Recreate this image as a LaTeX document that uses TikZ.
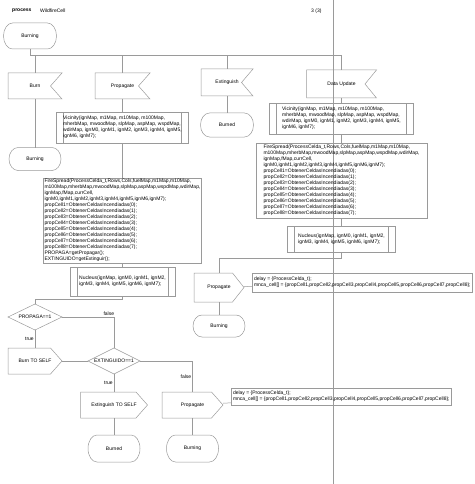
\documentclass[tikz,border=0pt]{standalone}
\usepackage{fontspec}
\setmainfont{Liberation Sans}
\usetikzlibrary{shapes.geometric}
\definecolor{linegray}{HTML}{9A9A9A}

\makeatletter
\def\sdlanchors{%
  \inheritsavedanchors[from=rectangle]%
  \inheritanchorborder[from=rectangle]%
  \inheritanchor[from=rectangle]{center}%
  \inheritanchor[from=rectangle]{north}%
  \inheritanchor[from=rectangle]{south}%
  \inheritanchor[from=rectangle]{east}%
  \inheritanchor[from=rectangle]{west}%
  \inheritanchor[from=rectangle]{north east}%
  \inheritanchor[from=rectangle]{north west}%
  \inheritanchor[from=rectangle]{south east}%
  \inheritanchor[from=rectangle]{south west}%
  \inheritanchor[from=rectangle]{mid}%
  \inheritanchor[from=rectangle]{base}}
\def\sdlbox{%
  \southwest\edef\sdlL{\the\pgf@x}\edef\sdlB{\the\pgf@y}%
  \northeast\edef\sdlR{\the\pgf@x}\edef\sdlT{\the\pgf@y}%
  \pgf@xc=\sdlL\advance\pgf@xc by9pt\edef\sdlS{\the\pgf@xc}%
  \pgf@xc=\sdlR\advance\pgf@xc by-9pt\edef\sdlE{\the\pgf@xc}%
  \pgf@xc=\sdlL\advance\pgf@xc by7pt\edef\sdlP{\the\pgf@xc}%
  \pgf@xc=\sdlR\advance\pgf@xc by-7pt\edef\sdlQ{\the\pgf@xc}%
  \pgf@xc=\sdlR\advance\pgf@xc by-11.5pt\edef\sdlK{\the\pgf@xc}%
  \pgf@yc=\sdlT\advance\pgf@yc by-\sdlB\divide\pgf@yc by2\edef\sdlH{\the\pgf@yc}%
  \advance\pgf@yc by\sdlB\edef\sdlM{\the\pgf@yc}}
\pgfdeclareshape{sdl state}{\sdlanchors
  \backgroundpath{\sdlbox
    \pgfpathmoveto{\pgfqpoint{\sdlS}{\sdlT}}%
    \pgfpathlineto{\pgfqpoint{\sdlE}{\sdlT}}%
    \pgfpatharc{90}{-90}{9pt and \sdlH}%
    \pgfpathlineto{\pgfqpoint{\sdlS}{\sdlB}}%
    \pgfpatharc{270}{90}{9pt and \sdlH}%
    \pgfpathclose}}
\pgfdeclareshape{sdl input}{\sdlanchors
  \backgroundpath{\sdlbox
    \pgfpathmoveto{\pgfqpoint{\sdlL}{\sdlB}}%
    \pgfpathlineto{\pgfqpoint{\sdlL}{\sdlT}}%
    \pgfpathlineto{\pgfqpoint{\sdlR}{\sdlT}}%
    \pgfpathlineto{\pgfqpoint{\sdlK}{\sdlM}}%
    \pgfpathlineto{\pgfqpoint{\sdlR}{\sdlB}}%
    \pgfpathclose}}
\pgfdeclareshape{sdl output}{\sdlanchors
  \backgroundpath{\sdlbox
    \pgfpathmoveto{\pgfqpoint{\sdlL}{\sdlB}}%
    \pgfpathlineto{\pgfqpoint{\sdlL}{\sdlT}}%
    \pgfpathlineto{\pgfqpoint{\sdlK}{\sdlT}}%
    \pgfpathlineto{\pgfqpoint{\sdlR}{\sdlM}}%
    \pgfpathlineto{\pgfqpoint{\sdlK}{\sdlB}}%
    \pgfpathclose}}
\pgfdeclareshape{sdl call}{\sdlanchors
  \backgroundpath{\sdlbox
    \pgfpathmoveto{\pgfqpoint{\sdlL}{\sdlB}}%
    \pgfpathlineto{\pgfqpoint{\sdlL}{\sdlT}}%
    \pgfpathlineto{\pgfqpoint{\sdlR}{\sdlT}}%
    \pgfpathlineto{\pgfqpoint{\sdlR}{\sdlB}}%
    \pgfpathclose
    \pgfpathmoveto{\pgfqpoint{\sdlP}{\sdlB}}%
    \pgfpathlineto{\pgfqpoint{\sdlP}{\sdlT}}%
    \pgfpathmoveto{\pgfqpoint{\sdlQ}{\sdlB}}%
    \pgfpathlineto{\pgfqpoint{\sdlQ}{\sdlT}}}}
\makeatother

\begin{document}
\begin{tikzpicture}[x=1pt,y=-1pt,
    every node/.style={font=\fontsize{5}{6}\selectfont},
    sdl/.style={draw=linegray,line width=.5pt,outer sep=0pt,inner sep=1pt},
    sdlstate/.style={sdl,shape=sdl state},
    sdlin/.style={sdl,shape=sdl input},
    sdlout/.style={sdl,shape=sdl output},
    sdlcall/.style={sdl,shape=sdl call,align=left},
    sdltask/.style={sdl,rectangle,align=left},
    sdldec/.style={sdl,diamond,aspect=2,inner sep=0pt},
    sdlnote/.style={sdl,rectangle,align=left,anchor=west,inner xsep=2pt},
    lbl/.style={inner sep=1pt},
    flow/.style={draw=linegray,line width=.5pt}]
\useasboundingbox (0,0) rectangle (474,484);
\draw[flow] (333,0) -- (333,484);
\node[lbl,anchor=west,font=\bfseries\fontsize{5}{6}\selectfont] (kind) at (11,11) {process};
\node[lbl,anchor=west] (procname) at (39,11) {WildfireCell};
\node[lbl,anchor=west] (page) at (310,11) {3 (3)};

\node[sdlstate,minimum width=53,minimum height=26] (start) at (30,36) {Burning};
\coordinate (bus) at (30,55);
\node[sdlin,minimum width=54,minimum height=26] (inBurn) at (35,86) {Burn};
\node[sdlin,minimum width=55,minimum height=26] (inProp) at (122.5,86) {Propagate};
\node[sdlin,minimum width=52,minimum height=27] (inExt) at (227,82.5) {Extinguish};
\node[sdlin,minimum width=70,minimum height=28] (inUpdate) at (341.5,84) {Data Update};

\node[sdlstate,minimum width=52,minimum height=23] (stBurning1) at (35,159) {Burning};
\node[sdlcall,minimum width=132,minimum height=31] (vic1) at (122.5,127.5)
  {Vicinity(ignMap, m1Map, m10Map, m100Map,\\mherbMap, mwoodMap, slpMap, aspMap, wspdMap,\\wdirMap, ignM0, ignM1, ignM2, ignM3, ignM4, ignM5,\\ignM6, ignM7);};
\node[sdltask,minimum width=156,minimum height=85] (fire1) at (122.5,220.5)
  {FireSpread(ProcessCelda\_t,Rows,Cols,fuelMap,m1Map,m10Map,\\m100Map,mherbMap,mwoodMap,slpMap,aspMap,wspdMap,wdirMap,\\ignMap,fMap,currCell,\\ignM0,ignM1,ignM2,ignM3,ignM4,ignM5,ignM6,ignM7);\\propCell1=ObtenerCeldasIncendiadas(0);\\propCell2=ObtenerCeldasIncendiadas(1);\\propCell3=ObtenerCeldasIncendiadas(2);\\propCell4=ObtenerCeldasIncendiadas(3);\\propCell5=ObtenerCeldasIncendiadas(4);\\propCell6=ObtenerCeldasIncendiadas(5);\\propCell7=ObtenerCeldasIncendiadas(6);\\propCell8=ObtenerCeldasIncendiadas(7);\\PROPAGA=getPropagar();\\EXTINGUIDO=getExtinguir();};
\node[sdlcall,minimum width=105,minimum height=29] (nuc1) at (122.5,281.5)
  {Nucleus(ignMap, ignM0, ignM1, ignM2,\\ignM3, ignM4, ignM5, ignM6, ignM7);};
\coordinate (join1) at (122.5,299);

\node[sdlstate,minimum width=53,minimum height=24] (stBurned1) at (227,125) {Burned};

\node[sdlcall,minimum width=144,minimum height=31] (vic2) at (341.5,118.5)
  {Vicinity(ignMap, m1Map, m10Map, m100Map,\\mherbMap, mwoodMap, slpMap, aspMap, wspdMap,\\wdirMap, ignM0, ignM1, ignM2, ignM3, ignM4, ignM5,\\ignM6, ignM7);};
\node[sdltask,minimum width=171,minimum height=75] (fire2) at (341.5,180.5)
  {FireSpread(ProcessCelda\_t,Rows,Cols,fuelMap,m1Map,m10Map,\\m100Map,mherbMap,mwoodMap,slpMap,aspMap,wspdMap,wdirMap,\\ignMap,fMap,currCell,\\ignM0,ignM1,ignM2,ignM3,ignM4,ignM5,ignM6,ignM7);\\propCell1=ObtenerCeldasIncendiadas(0);\\propCell2=ObtenerCeldasIncendiadas(1);\\propCell3=ObtenerCeldasIncendiadas(2);\\propCell4=ObtenerCeldasIncendiadas(3);\\propCell5=ObtenerCeldasIncendiadas(4);\\propCell6=ObtenerCeldasIncendiadas(5);\\propCell7=ObtenerCeldasIncendiadas(6);\\propCell8=ObtenerCeldasIncendiadas(7);};
\node[sdlcall,minimum width=108,minimum height=26] (nuc2) at (341.5,239)
  {Nucleus(ignMap, ignM0, ignM1, ignM2,\\ignM3, ignM4, ignM5, ignM6, ignM7);};
\coordinate (join2) at (341.5,258);
\node[sdlout,minimum width=50,minimum height=29] (outPropA) at (219,287.5) {Propagate};
\node[sdlnote,minimum height=19] (noteA) at (252,282.5)
  {delay = \{ProcessCelda\_t\};\\mnca\_cell[] = \{propCell1,propCell2,propCell3,propCell4,propCell5,propCell6,propCell7,propCell8\};};
\node[sdlstate,minimum width=52,minimum height=22] (stBurning2) at (219,326) {Burning};

\node[sdldec,minimum width=54,minimum height=26] (decProp) at (35,317) {PROPAGA==1};
\node[sdlout,minimum width=54,minimum height=26] (outBurnSelf) at (35,361) {Burn TO SELF};
\node[sdldec,minimum width=52,minimum height=26] (decExt) at (114,361) {EXTINGUIDO==1};
\node[sdlout,minimum width=67,minimum height=26] (outExtSelf) at (114,405) {Extinguish TO SELF};
\node[sdlout,minimum width=61,minimum height=26] (outPropB) at (192.5,405) {Propagate};
\node[sdlnote,minimum height=17] (noteB) at (231,396.5)
  {delay = \{ProcessCelda\_t\};\\mnca\_cell[] = \{propCell1,propCell2,propCell3,propCell4,propCell5,propCell6,propCell7,propCell8\};};
\node[sdlstate,minimum width=52,minimum height=27] (stBurned2) at (114,448.5) {Burned};
\node[sdlstate,minimum width=52,minimum height=27] (stBurning3) at (192.5,448.5) {Burning};

\draw[flow] (start) -- (bus);
\foreach \n in {inBurn,inProp,inExt,inUpdate}
  \draw[flow] (bus) -| (\n);
\draw[flow] (inBurn) -- (stBurning1);
\draw[flow] (inProp) -- (vic1) -- (fire1) -- (nuc1) -- (join1) -| (decProp);
\draw[flow] (inExt) -- (stBurned1);
\draw[flow] (inUpdate) -- (vic2) -- (fire2) -- (nuc2) -- (join2) -| (outPropA);
\draw[flow] (outPropA) -- (stBurning2);
\draw[flow] (outPropA) -- (noteA);
\draw[flow] (decProp) -| node[lbl,pos=.45,above] {false} (decExt);
\draw[flow] (decProp) -- node[lbl,left] {true} (outBurnSelf);
\draw[flow] (outBurnSelf) -- (decExt);
\draw[flow] (decExt) -- node[lbl,left] {true} (outExtSelf);
\draw[flow] (decExt) -| node[lbl,pos=.75,left] {false} (outPropB);
\draw[flow] (outExtSelf) -- (stBurned2);
\draw[flow] (outPropB) -- (stBurning3);
\draw[flow] (outPropB) -- (noteB);
\end{tikzpicture}
\end{document}
